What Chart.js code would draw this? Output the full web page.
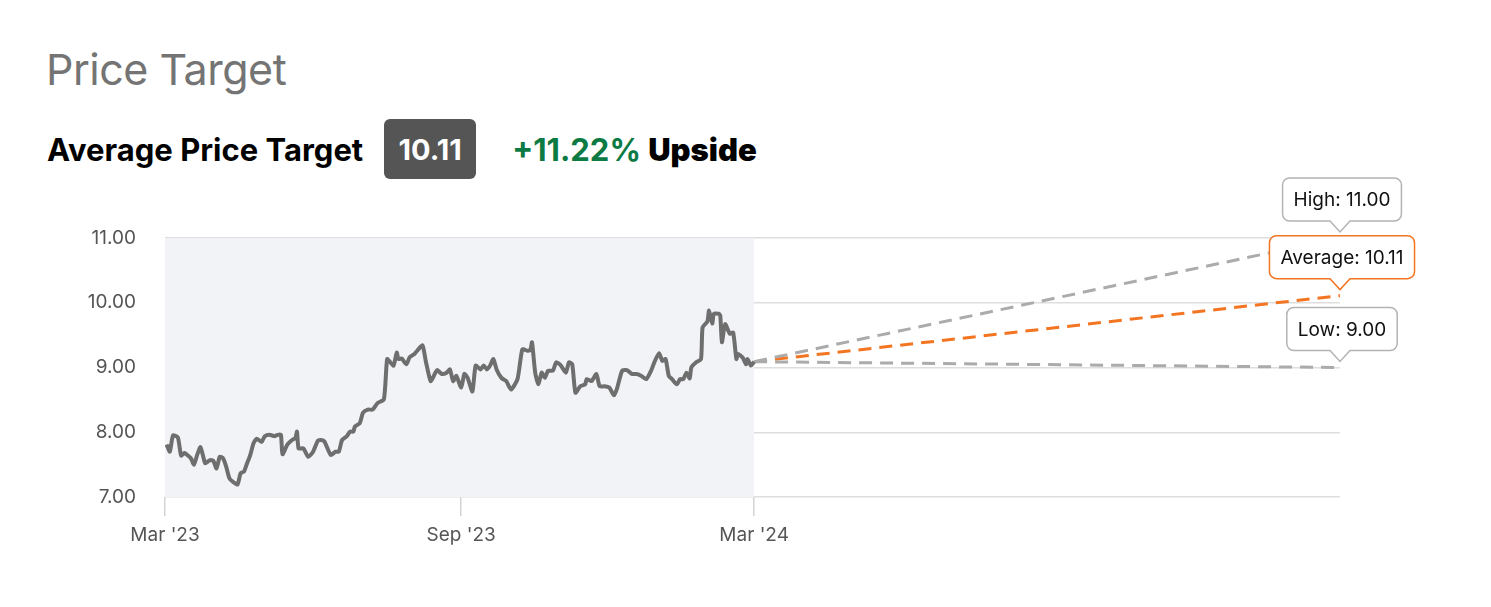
<!DOCTYPE html>
<html>
<head>
<meta charset="utf-8">
<script src="https://cdn.jsdelivr.net/npm/chart.js@4"></script>
<style>
  html, body { margin: 0; padding: 0; background: #fff; }
  body { width: 1491px; height: 607px; position: relative; overflow: hidden; font-family: Inter, "Noto Sans", sans-serif; }
  .title { position: absolute; left: 46px; top: 43px; font-size: 43px; color: #747474; font-weight: 400; letter-spacing: -0.5px; }
  .sub { position: absolute; left: 47px; top: 119px; height: 60px; display: flex; align-items: center; font-size: 31px; font-weight: 700; color: #000; }
  .badge { margin-left: 21px; background: #555; color: #fff; border-radius: 6px; width: 92px; height: 60px; display: flex; align-items: center; justify-content: center; font-size: 29px; }
  .up { margin-left: 36px; color: #0c7a43; }
  .up b { color: #000; }
  #wrap { position: absolute; left: 0; top: 170px; width: 1491px; height: 437px; }
</style>
</head>
<body>
<div class="title">Price Target</div>
<div class="sub">Average Price Target <span class="badge">10.11</span><span class="up">+11.22% <b>Upside</b></span></div>
<div id="wrap"><canvas id="chart"></canvas></div>
<script>
// days since 1 Mar 2023 and closing prices
const days = [1, 3, 5, 8, 10, 12, 16, 18, 20, 22, 24, 25, 28, 30, 32, 34, 36, 38, 40, 42,
  45, 47, 49, 51, 53, 55, 57, 60, 62, 65, 68, 70, 72, 73, 76, 79, 81, 82, 83, 86,
  89, 92, 95, 97, 99, 103, 106, 108, 110, 113, 115, 117, 118, 121, 123, 126, 129, 132, 136, 138,
  140, 142, 144, 145, 147, 150, 152, 155, 157, 160, 162, 165, 167, 169, 172, 175, 177, 179, 181, 184,
  186, 188, 191, 193, 196, 198, 200, 202, 204, 206, 209, 212, 215, 219, 222, 225, 227, 228, 230, 232,
  234, 236, 238, 241, 243, 246, 249, 251, 253, 255, 258, 261, 262, 265, 268, 270, 273, 276, 279, 281,
  284, 287, 290, 293, 296, 299, 302, 304, 307, 309, 311, 313, 315, 318, 320, 322, 324, 326, 327, 330,
  333, 334, 337, 338, 340, 341, 344, 345, 346, 348, 351, 353, 355, 356, 359, 361, 362, 364, 366];
const prices = [7.81, 7.70, 7.95, 7.92, 7.64, 7.68, 7.60, 7.50, 7.65, 7.77, 7.60, 7.52, 7.57, 7.56, 7.44, 7.62, 7.60, 7.47, 7.29, 7.24,
  7.19, 7.37, 7.39, 7.52, 7.65, 7.83, 7.90, 7.85, 7.94, 7.96, 7.94, 7.96, 7.96, 7.66, 7.81, 7.88, 7.91, 8.01, 7.75, 7.75,
  7.62, 7.70, 7.87, 7.88, 7.86, 7.65, 7.70, 7.70, 7.88, 7.94, 8.01, 8.01, 8.09, 8.14, 8.30, 8.35, 8.35, 8.45, 8.51, 9.13,
  9.08, 9.03, 9.23, 9.13, 9.14, 9.05, 9.16, 9.21, 9.27, 9.34, 9.10, 8.79, 8.87, 8.96, 8.90, 8.92, 8.97, 8.79, 8.87, 8.69,
  8.90, 8.84, 8.63, 9.03, 8.97, 9.03, 8.97, 9.03, 9.13, 8.97, 8.84, 8.79, 8.66, 8.82, 9.28, 9.26, 9.27, 9.39, 8.92, 8.74,
  8.92, 8.84, 8.95, 8.95, 9.08, 9.03, 8.92, 9.08, 9.05, 8.61, 8.71, 8.74, 8.82, 8.79, 8.90, 8.71, 8.71, 8.69, 8.57, 8.69,
  8.95, 8.96, 8.90, 8.90, 8.87, 8.82, 8.95, 9.08, 9.22, 9.10, 9.13, 8.87, 8.82, 8.74, 8.82, 8.82, 8.92, 8.83, 9.00, 9.08,
  9.13, 9.62, 9.71, 9.88, 9.68, 9.83, 9.83, 9.80, 9.39, 9.67, 9.52, 9.54, 9.13, 9.21, 9.15, 9.05, 9.13, 9.03, 9.09];

const targetNames = ['High', 'Low', 'Average'];
const targetValues = [11.00, 9.00, 10.11];
const targetDay = 730;          // Mar '25
const tickDays = [0, 184, 366];
const tickLabels = ["Mar '23", "Sep '23", "Mar '24"];
const yTicks = [7, 8, 9, 10, 11];

const lastDay = days[days.length - 1];
const lastPrice = prices[prices.length - 1];
const targetColors = ['#ababab', '#ababab', '#f47521'];
const FONT = 'Inter, "Noto Sans", sans-serif';

const targetSets = targetNames.map((name, i) => ({
  label: name,
  data: [{ x: lastDay, y: lastPrice }, { x: targetDay, y: targetValues[i] }],
  borderColor: targetColors[i],
  borderWidth: 3,
  borderDash: [13, 8],
  pointRadius: 0,
  fill: false
}));

const callouts = {
  id: 'callouts',
  afterDatasetsDraw(chart) {
    const ctx = chart.ctx;
    ctx.save();
    ctx.font = '19px ' + FONT;
    targetNames.forEach((name, i) => {
      const pt = chart.getDatasetMeta(i + 2).data[1];
      const text = name + ': ' + targetValues[i].toFixed(2);
      const w = ctx.measureText(text).width + 22;
      const h = 43;
      const cx = pt.x + 2;
      const bottom = pt.y - 17;
      const top = bottom - h;
      const l = cx - w / 2, r = cx + w / 2, rad = 7;
      ctx.beginPath();
      ctx.moveTo(l + rad, top);
      ctx.lineTo(r - rad, top);
      ctx.arcTo(r, top, r, top + rad, rad);
      ctx.lineTo(r, bottom - rad);
      ctx.arcTo(r, bottom, r - rad, bottom, rad);
      ctx.lineTo(pt.x + 10, bottom);
      ctx.lineTo(pt.x, pt.y - 6);
      ctx.lineTo(pt.x - 10, bottom);
      ctx.lineTo(l + rad, bottom);
      ctx.arcTo(l, bottom, l, bottom - rad, rad);
      ctx.lineTo(l, top + rad);
      ctx.arcTo(l, top, l + rad, top, rad);
      ctx.closePath();
      ctx.fillStyle = '#fff';
      ctx.fill();
      ctx.lineWidth = 1.5;
      ctx.strokeStyle = i === 2 ? '#f47521' : '#b3b3b3';
      ctx.stroke();
      ctx.fillStyle = '#111';
      ctx.textAlign = 'center';
      ctx.textBaseline = 'middle';
      ctx.fillText(text, cx, top + h / 2 + 1);
    });
    ctx.restore();
  }
};

new Chart(document.getElementById('chart'), {
  type: 'line',
  data: {
    datasets: [
      {
        label: 'past',
        data: [{ x: 0, y: 11 }, { x: lastDay, y: 11 }],
        fill: 'start',
        backgroundColor: '#f2f3f7',
        borderWidth: 0,
        pointRadius: 0,
        order: 10
      },
      {
        label: 'Price',
        data: days.map((d, i) => ({ x: d, y: prices[i] })),
        borderColor: '#6e6e6e',
        borderWidth: 4,
        borderJoinStyle: 'round',
        pointRadius: 0,
        tension: 0.2,
        fill: false
      },
      ...targetSets
    ]
  },
  options: {
    responsive: true,
    maintainAspectRatio: false,
    animation: false,
    layout: { padding: { left: 0, right: 151, top: 68, bottom: 40 } },
    plugins: { legend: { display: false }, tooltip: { enabled: false } },
    scales: {
      x: {
        type: 'linear',
        min: 0,
        max: targetDay,
        afterBuildTicks: (scale) => { scale.ticks = tickDays.map(v => ({ value: v })); },
        afterFit: (scale) => { scale.height = 70; },
        grid: { drawOnChartArea: false, drawTicks: true, tickLength: 19, color: '#d4d4d4', lineWidth: 1.5 },
        border: { display: false },
        ticks: {
          padding: 8,
          color: '#555',
          font: { family: FONT, size: 19 },
          callback: (v) => tickLabels[tickDays.indexOf(v)]
        }
      },
      y: {
        min: 7,
        max: 11,
        afterBuildTicks: (scale) => { scale.ticks = yTicks.map(v => ({ value: v })); },
        afterFit: (scale) => { scale.width = 165; },
        grid: { color: '#dedede', lineWidth: 1.5, drawTicks: false },
        border: { display: false },
        ticks: {
          padding: 29,
          color: '#555',
          font: { family: FONT, size: 19 },
          callback: (v) => v.toFixed(2)
        }
      }
    }
  },
  plugins: [callouts]
});
</script>
</body>
</html>
